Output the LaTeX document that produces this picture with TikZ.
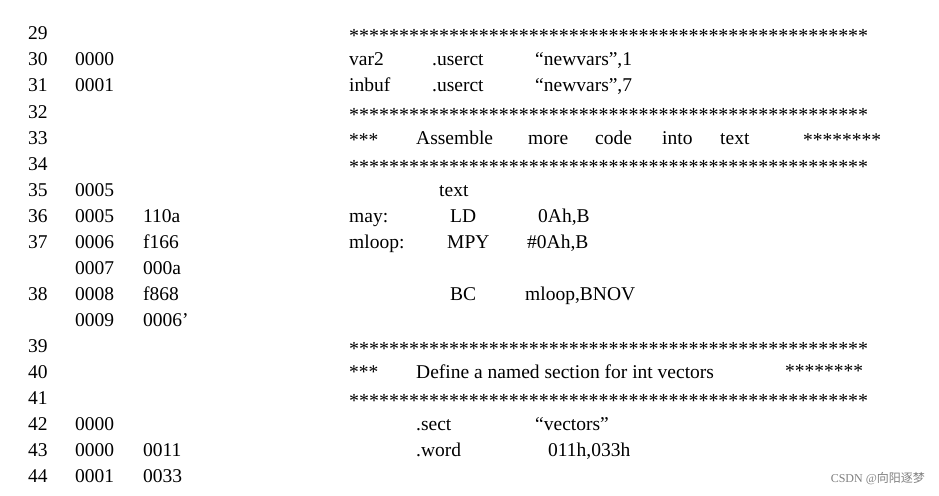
\documentclass[tikz,border=0pt]{standalone}
\usepackage{fontspec}
\setmainfont{Liberation Serif}
\newfontfamily\cjk{Noto Sans CJK SC}
\begin{document}
\begin{tikzpicture}[x=1pt,y=-1pt,t/.style={anchor=base west,inner sep=0pt,font=\fontsize{19.5}{20}\selectfont}]
\useasboundingbox (0,0) rectangle (939,495);
\fill[white] (0,0) rectangle (939,495);
\def\stars{****************************************************}
\newcommand\R[2]{\pgfmathsetmacro\yy{33+26*(#1)+7}}
\foreach \n/\r in {29/0,30/1,31/2,32/3,33/4,34/5,35/6,36/7,37/8,38/10,39/12,40/13,41/14,42/15,43/16,44/17}
  {\node[t] (ln\n) at (28,{33+26*\r+7}) {\n};}
\foreach \a/\r [count=\i] in {0000/1,0001/2,0005/6,0005/7,0006/8,0007/9,0008/10,0009/11,0000/15,0000/16,0001/17}
  {\node[t] (ad\i) at (75,{33+26*\r+7}) {\a};}
\foreach \c/\r [count=\i] in {110a/7,f166/8,000a/9,f868/10,0006’/11,0011/16,0033/17}
  {\node[t] (cd\i) at (143,{33+26*\r+7}) {\c};}
\foreach \r [count=\i] in {0,3,5,12,14}
  {\node[t] (st\i) at (349,{33+26*\r+7+3}) {\resizebox{519pt}{!}{\stars}};}
\node[t] (v2) at (349,66) {var2};
\node[t] (u1) at (432,66) {.userct};
\node[t] (n1) at (535,66) {“newvars”,1};
\node[t] (ib) at (349,92) {inbuf};
\node[t] (u2) at (432,92) {.userct};
\node[t] (n2) at (535,92) {“newvars”,7};
\node[t] (a1) at (349,146) {***};
\node[t] (a2) at (416,144) {Assemble};
\node[t] (a3) at (528,144) {more};
\node[t] (a4) at (595,144) {code};
\node[t] (a5) at (662,144) {into};
\node[t] (a6) at (720,144) {text};
\node[t] (a7) at (803,146) {********};
\node[t] (tx) at (439,196) {text};
\node[t] (may) at (349,222) {may:};
\node[t] (ld) at (450,222) {LD};
\node[t] (ldo) at (538,222) {0Ah,B};
\node[t] (ml) at (349,248) {mloop:};
\node[t] (mpy) at (447,248) {MPY};
\node[t] (mpo) at (527,248) {\#0Ah,B};
\node[t] (bc) at (450,300) {BC};
\node[t] (bco) at (525,300) {mloop,BNOV};
\node[t] (d1) at (349,378) {***};
\node[t] (d2) at (416,378) {Define a named section for int vectors};
\node[t] (d3) at (785,377) {********};
\node[t] (se) at (416,430) {.sect};
\node[t] (seo) at (535,430) {“vectors”};
\node[t] (wo) at (416,456) {.word};
\node[t] (woo) at (548,456) {011h,033h};
\node[anchor=base east,inner sep=0pt,text=gray,font=\fontsize{12}{12}\selectfont] (wm) at (925,482) {CSDN @{\cjk 向阳逐梦}};
\end{tikzpicture}
\end{document}
